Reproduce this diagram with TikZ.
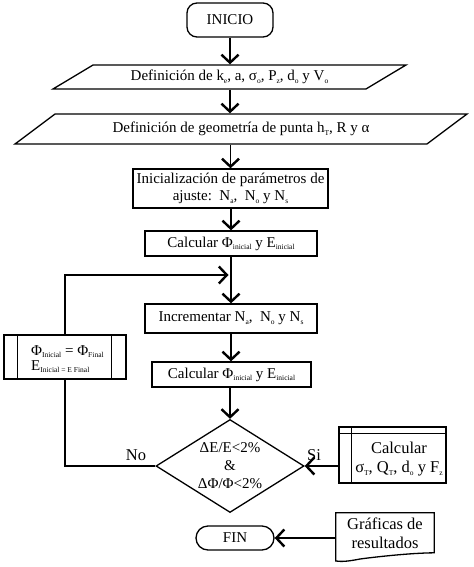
\documentclass[tikz,border=0pt]{standalone}
\usepackage{fontspec}
\setmainfont{Liberation Serif}
\usetikzlibrary{shapes.geometric,arrows.meta,calc}
\newcommand\sbs[1]{\raisebox{-0.35ex}{\fontsize{7.5bp}{8bp}\selectfont #1}}
\begin{document}
\begin{tikzpicture}[x=1bp,y=-1bp,
  every node/.style={font=\fontsize{15bp}{17bp}\selectfont, inner sep=0pt},
  ln/.style={line width=1.3bp},
  arr/.style={ln,-{Straight Barb[length=8bp,width=17bp,line width=2.4bp]}},
  box/.style={draw,ln,rectangle},
  para/.style={draw,ln,trapezium,trapezium left angle=19,trapezium right angle=161,trapezium stretches body},
  big/.style={font=\fontsize{16.5bp}{19bp}\selectfont}
]
\useasboundingbox (0,0) rectangle (474,567);
\fill[white] (0,0) rectangle (474,567);

\node[box,rounded corners=10bp,minimum width=86bp,minimum height=34bp] (inicio) at (230,20) {INICIO};
\node[para,minimum width=353bp,minimum height=24bp] (p1) at (229.5,77) {Definición de k\sbs{e}, a, σ\sbs{o}, P\sbs{z}, d\sbs{o} y V\sbs{o}};
\node[para,minimum width=452bp,minimum height=30bp] (p2) at (241,129) {Definición de geometría de punta h\sbs{T}, R y α};
\node[box,minimum width=195bp,minimum height=39bp,align=center] (ini) at (230.5,188.5) {Inicialización de parámetros de\\ajuste:\ \ N\sbs{a},\ \ N\sbs{o} y N\sbs{s}};
\node[box,minimum width=172bp,minimum height=25bp] (calc1) at (231,243.5) {Calcular Φ\sbs{inicial} y E\sbs{inicial}};
\node[box,minimum width=172bp,minimum height=29bp] (incr) at (231,318.5) {Incrementar N\sbs{a},\ \ N\sbs{o} y N\sbs{s}};
\node[box,minimum width=159bp,minimum height=25bp] (calc2) at (231.5,374.5) {Calcular Φ\sbs{inicial} y E\sbs{inicial}};
\node[draw,ln,diamond,minimum width=148bp,minimum height=93bp,aspect=1.59,align=center,font=\fontsize{15bp}{18bp}\selectfont] (dia) at (230,466) {ΔE/E<2\%\\\&\\ΔΦ/Φ<2\%};

% left predefined process box
\node[box,minimum width=122bp,minimum height=44bp] (lbox) at (65,357) {};
\draw[ln] ([xshift=14bp]lbox.north west) -- ([xshift=14bp]lbox.south west);
\draw[ln] ([xshift=-15bp]lbox.north east) -- ([xshift=-15bp]lbox.south east);
\node[align=left,anchor=west] (lboxt) at (31,359) {Φ\sbs{Inicial} = Φ\sbs{Final}\\[-2bp]E\sbs{Inicial = E Final}};

% right predefined process box
\node[box,minimum width=107bp,minimum height=56bp] (rbox) at (392.5,455) {};
\draw[ln] ([yshift=-7bp]rbox.north west) -- ([yshift=-7bp]rbox.north east);
\draw[ln] ([xshift=13bp]rbox.north west) -- ([xshift=13bp]rbox.south west);
\node[big,align=center] (rboxt) at (399,459) {Calcular\\σ\sbs{T}, Q\sbs{T}, d\sbs{o} y F\sbs{z}};

% FIN
\node[box,rounded corners=12bp,minimum width=78bp,minimum height=24bp] (fin) at (235,538) {FIN};

% document shape
\node[big,align=center,minimum width=98bp,minimum height=40bp] (graf) at (385,533) {Gráficas de\\resultados};
\draw[ln] (graf.north west) -- (graf.north east) -- ++(0,40)
  .. controls (410,553) and (375,557) .. (360,559)
  .. controls (350,561) and (342,562) .. (graf.north west |- 0,561) -- cycle;

% connectors
\draw[arr] (inicio) -- (inicio.south |- p1.north);
\draw[arr] (p1.south -| inicio.south) -- (inicio.south |- p2.north);
\draw[arr] (p2.south -| ini.north) -- (ini.north);
\draw[arr] (ini.south -| calc1.north) -- (calc1.north);
\draw[arr] (calc1) -- (incr);
\draw[arr] (incr) -- (incr.south |- calc2.north);
\draw[arr] (calc2.south -| dia.north) -- (dia.north);
\draw[ln] (dia.west) -| (lbox.south);
\draw[arr,shorten >=2.5bp] (lbox.north) |- (calc1.south |- 0,275);
\draw[arr] (rbox.west |- dia.east) -- (dia.east);
\draw[arr] (graf.west |- fin.east) -- (fin.east);

\node[big] (no) at (136,455) {No};
\node[big] (si) at (314,455) {Si};
\end{tikzpicture}
\end{document}
